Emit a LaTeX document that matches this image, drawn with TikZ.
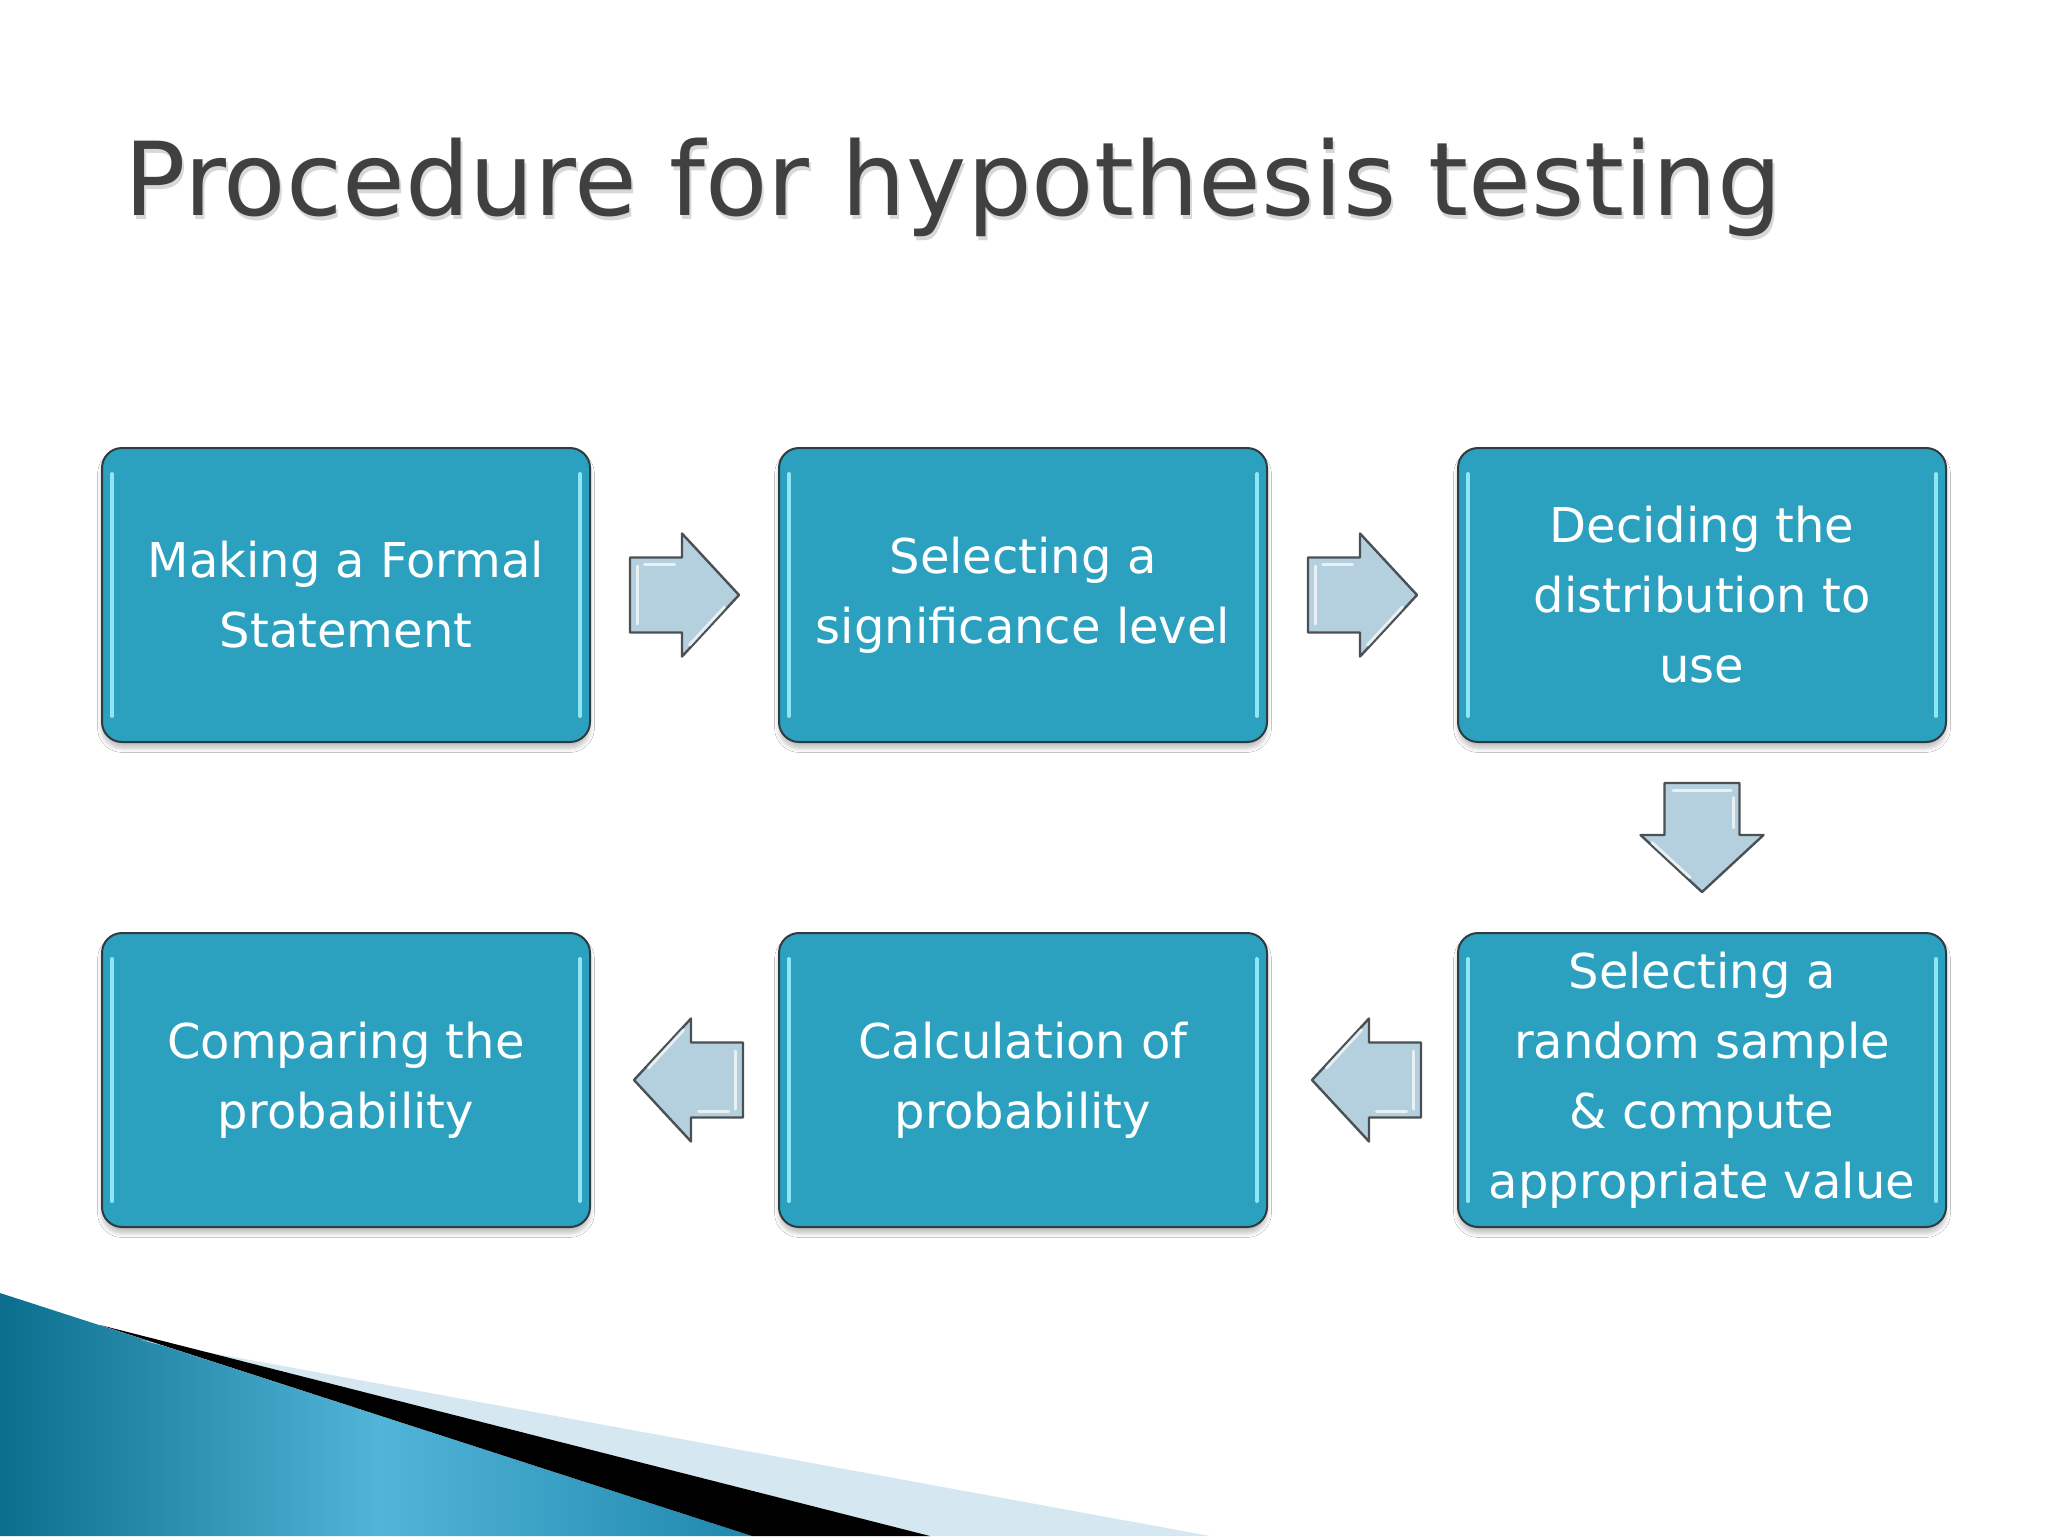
\documentclass[tikz,border=0pt]{standalone}
\usepackage{fontspec}
\setmainfont{DejaVu Sans}
\usetikzlibrary{calc,shadows.blur}
\definecolor{boxfill}{HTML}{2CA1BF}
\definecolor{boxline}{HTML}{2E3B40}
\definecolor{arrfill}{HTML}{B4CFDD}
\definecolor{arrline}{HTML}{4A5054}
\definecolor{titlec}{HTML}{404040}
\definecolor{decdark}{HTML}{0B6E8D}
\definecolor{decmid}{HTML}{52B5D8}
\definecolor{decright}{HTML}{1F88AE}
\definecolor{declight}{HTML}{D5E7F0}
\definecolor{hlc}{HTML}{8FE6F5}
\tikzset{
  stepbox/.style={draw=boxline, line width=1pt, fill=boxfill, rounded corners=10pt,
    minimum width=244pt, minimum height=147pt, inner sep=0pt, text=white,
    font=\fontsize{24}{35}\selectfont, align=center,
    blur shadow={shadow xshift=0pt, shadow yshift=-3pt, shadow opacity=25, shadow blur steps=6},
    path picture={
      \draw[hlc, line width=2pt, line cap=round]
        ([xshift=5pt,yshift=-13pt]path picture bounding box.north west) --
        ([xshift=5pt,yshift=13pt]path picture bounding box.south west);
      \draw[hlc, line width=2pt, line cap=round]
        ([xshift=-5pt,yshift=-13pt]path picture bounding box.north east) --
        ([xshift=-5pt,yshift=13pt]path picture bounding box.south east);
    }},
  blockarrow/.style={fill=arrfill, draw=arrline, line width=1.2pt, line join=round},
  arrowhl/.style={white, opacity=0.7, line width=1.5pt, line cap=round},
  titletext/.style={anchor=base west, inner sep=0pt, font=\fontsize{51}{60}\selectfont}
}
\newcommand{\blockarr}[2]{%
  \begin{scope}[shift={#1}, rotate=#2]
    \draw[blockarrow] (-54.5,-37.5) -- (-2.5,-37.5) -- (-2.5,-61.5) -- (54.5,0) --
      (-2.5,61.5) -- (-2.5,37.5) -- (-54.5,37.5) -- cycle;
    \draw[arrowhl] (-47,-29) -- (-47,29);
    \draw[arrowhl] (5,50) -- (40,12);
    \draw[arrowhl] (-40,-31) -- (-10,-31);
  \end{scope}}
\begin{document}
\begin{tikzpicture}[x=0.5pt, y=-0.5pt]
  \fill[white] (0,0) rectangle (2048,1536);
  \useasboundingbox (0,0) rectangle (2048,1536);

  % bottom-left decoration
  \shade[left color=decdark, right color=decright, middle color=decmid]
    (0,1293) -- (752,1536) -- (0,1536) -- cycle;
  \fill[declight] (141,1340) -- (1210,1536) -- (925,1536) -- cycle;
  \fill[black] (100,1325) -- (930,1536) -- (752,1536) -- cycle;

  % title
  \node[titletext, text=black!30, opacity=0.5] (titleshadow) at (126,219) {Procedure for hypothesis testing};
  \node[titletext, text=titlec] (title) at (124,215) {Procedure for hypothesis testing};

  % boxes
  \node[stepbox] (b1) at (346,595) {Making a Formal\\Statement};
  \node[stepbox] (b2) at (1023,595) {Selecting a\\significance level};
  \node[stepbox] (b3) at (1702,595) {Deciding the\\distribution to\\use};
  \node[stepbox] (b6) at (1702,1080) {Selecting a\\random sample\\\&~compute\\appropriate value};
  \node[stepbox] (b5) at (1023,1080) {Calculation of\\probability};
  \node[stepbox] (b4) at (346,1080) {Comparing the\\probability};

  % block arrows
  \blockarr{($(b1.east)!0.5!(b2.west)$)}{0}
  \blockarr{($(b2.east)!0.5!(b3.west)$)}{0}
  \blockarr{($(b3.south)!0.5!(b6.north)$)}{-90}
  \blockarr{($(b5.east)!0.5!(b6.west)+(4,0)$)}{180}
  \blockarr{($(b4.east)!0.5!(b5.west)+(4,0)$)}{180}
\end{tikzpicture}
\end{document}
